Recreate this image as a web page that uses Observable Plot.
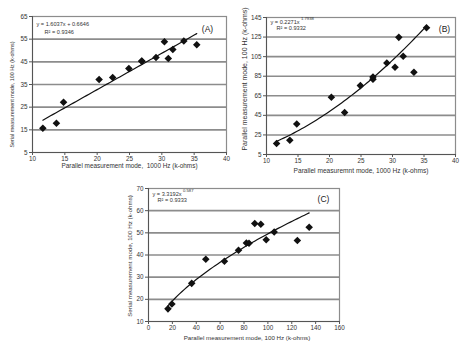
<!DOCTYPE html>
<html>
<head>
<meta charset="utf-8">
<script src="https://cdn.jsdelivr.net/npm/d3@7"></script>
<script src="https://cdn.jsdelivr.net/npm/@observablehq/plot@0.6"></script>
<style>
  html, body { margin: 0; padding: 0; background: #fff; }
  #wrap { position: relative; width: 474px; height: 351px; overflow: hidden; background: #fff; }
  .panel { position: absolute; }
</style>
</head>
<body>
<div id="wrap">
  <div class="panel" id="pA" style="left:0px;top:0px"></div>
  <div class="panel" id="pB" style="left:237px;top:0px"></div>
  <div class="panel" id="pC" style="left:100px;top:175px"></div>
</div>
<script>
// ---- Data ----
const parallel1000 = [11.6, 13.7, 14.8, 20.3, 22.4, 24.9, 26.9, 26.9, 29.1, 30.4, 31.0, 31.7, 33.4, 35.4];
const parallel100  = [16.3, 19.6, 36.2, 63.6, 48.0, 75.4, 82.0, 84.2, 98.6, 94.1, 124.7, 105.3, 89.0, 134.6];
const serial100    = [15.7, 17.9, 27.2, 37.2, 38.1, 42.1, 45.4, 45.3, 46.9, 53.9, 46.5, 50.4, 54.2, 52.5];

const ticksA_x = [10, 15, 20, 25, 30, 35, 40];
const ticksA_y = [5, 15, 25, 35, 45, 55, 65];
const ticksB_x = [10, 15, 20, 25, 30, 35, 40];
const ticksB_y = [5, 25, 45, 65, 85, 105, 125, 145];
const ticksC_x = [0, 20, 40, 60, 80, 100, 120, 140, 160];
const ticksC_y = [10, 20, 30, 40, 50, 60, 70];

// Trendline equations as printed on the chart
const fitA = {a: 1.6037, b: 0.6646, r2: "0.9346"};
const fitB = {a: 0.2271, k: 1.7938, r2: "0.9332"};
const fitC = {a: 3.3192, k: 0.587, r2: "0.9333"};

const font = "Liberation Sans, Arial, Helvetica, sans-serif";

function panel(o) {
  const data = o.xs.map((x, i) => ({x, y: o.ys[i]}));
  const [x0, x1] = d3.extent(o.xs);
  const curve = d3.range(0, 61).map(i => {
    const x = x0 + (x1 - x0) * i / 60;
    return {x, y: o.f(x)};
  });
  const yT = o.yTicks, xT = o.xTicks;
  return Plot.plot({
    width: o.width, height: o.height,
    marginLeft: o.m[0], marginTop: o.m[1], marginRight: o.m[2], marginBottom: o.m[3],
    style: {fontFamily: font, fontSize: "6.3px", color: "#333", background: "transparent", overflow: "visible"},
    x: {domain: [xT[0], xT[xT.length - 1]], label: null},
    y: {domain: [yT[0], yT[yT.length - 1]], label: null},
    marks: [
      Plot.ruleY(yT.slice(1, -1), {stroke: "#8c8c8c", strokeWidth: 1.6}),
      Plot.frame({stroke: "#8c8c8c", strokeWidth: 1.2}),
      Plot.ruleX([xT[0]], {stroke: "#555", strokeWidth: 1}),
      Plot.ruleY([yT[0]], {stroke: "#555", strokeWidth: 1}),
      Plot.axisX({ticks: xT, tickSize: 3, tickPadding: 1.5, tickFormat: d => String(d), label: null, stroke: "#555"}),
      Plot.axisY({ticks: yT, tickSize: 3, tickPadding: 2, tickFormat: d => String(d), label: null, stroke: "#555"}),
      Plot.line(curve, {x: "x", y: "y", stroke: "#111", strokeWidth: 1.2}),
      Plot.dot(data, {x: "x", y: "y", symbol: "diamond2", fill: "#111", stroke: "none", r: 3.4}),
      Plot.text([o.xLabel], {frameAnchor: "bottom", dx: o.xLabelDx || 0, dy: o.xLabelDy, text: d => d, fontSize: o.xLabelSize, fill: "#333", textAnchor: "middle", lineAnchor: "middle"}),
      Plot.text([o.yLabel], {frameAnchor: "left", dx: o.yLabelDx, dy: o.yLabelDy, rotate: -90, text: d => d, fontSize: o.yLabelSize, fill: "#333", textAnchor: "middle", lineAnchor: "middle"}),
      Plot.text([o.eq], {frameAnchor: "top-left", dx: o.eqPos[0], dy: o.eqPos[1], text: d => d, fontSize: 5.6, fill: "#333", textAnchor: "start", lineAnchor: "middle"}),
      ...(o.exp ? [Plot.text([o.exp], {frameAnchor: "top-left", dx: o.expPos[0], dy: o.expPos[1], text: d => d, fontSize: 4.2, fill: "#333", textAnchor: "start", lineAnchor: "middle"})] : []),
      Plot.text([o.r2], {frameAnchor: "top-left", dx: o.r2Pos[0], dy: o.r2Pos[1], text: d => d, fontSize: 5.6, fill: "#333", textAnchor: "start", lineAnchor: "middle"}),
      Plot.text([o.tag], {frameAnchor: "top-left", dx: o.tagPos[0], dy: o.tagPos[1], text: d => d, fontSize: 8.5, fill: "#222", textAnchor: "middle", lineAnchor: "middle"})
    ]
  });
}

document.getElementById("pA").append(panel({
  xs: parallel1000, ys: serial100, f: x => fitA.a * x + fitA.b,
  xTicks: ticksA_x, yTicks: ticksA_y,
  width: 237, height: 175, m: [32, 16, 11, 23],
  xLabel: "Parallel measurement mode,  1000 Hz (k-ohms)", xLabelDy: 13, xLabelSize: 6.4,
  yLabel: "Serial measurement mode, 100 Hz (k-ohms)", yLabelDx: -20, yLabelDy: 10, yLabelSize: 5.4,
  eq: "y = 1.6037x + 0.6646", eqPos: [4, 8],
  r2: "R² = 0.9346", r2Pos: [12, 16],
  tag: "(A)", tagPos: [175, 13]
}));

document.getElementById("pB").append(panel({
  xs: parallel1000, ys: parallel100, f: x => fitB.a * Math.pow(x, fitB.k),
  xTicks: ticksB_x, yTicks: ticksB_y,
  width: 237, height: 175, m: [29, 17, 19, 21],
  xLabel: "Parallel measuremnt mode, 1000 Hz (k-ohms)", xLabelDy: 16, xLabelSize: 6.6,
  yLabel: "Parallel measurement mode, 100 Hz (k-ohms)", yLabelDx: -22, yLabelDy: -7, yLabelSize: 7,
  eq: "y = 0.2271x", eqPos: [4, 5],
  exp: String(fitB.k), expPos: [34.5, 1.5],
  r2: "R² = 0.9332", r2Pos: [10, 11],
  tag: "(B)", tagPos: [178, 12]
}));

document.getElementById("pC").append(panel({
  xs: parallel100, ys: serial100, f: x => fitC.a * Math.pow(x, fitC.k),
  xTicks: ticksC_x, yTicks: ticksC_y,
  width: 260, height: 176, m: [48, 13, 21, 30],
  xLabel: "Parallel measurement mode, 100 Hz (k-ohms)", xLabelDx: 3, xLabelDy: 17, xLabelSize: 6.2,
  yLabel: "Serial measurement mode, 100 Hz (k-ohms)", yLabelDx: -18, yLabelDy: 1, yLabelSize: 6.2,
  eq: "y = 3.3192x", eqPos: [4, 6],
  exp: String(fitC.k), expPos: [34.5, 2.5],
  r2: "R² = 0.9333", r2Pos: [9, 12],
  tag: "(C)", tagPos: [175, 11]
}));
</script>
</body>
</html>
